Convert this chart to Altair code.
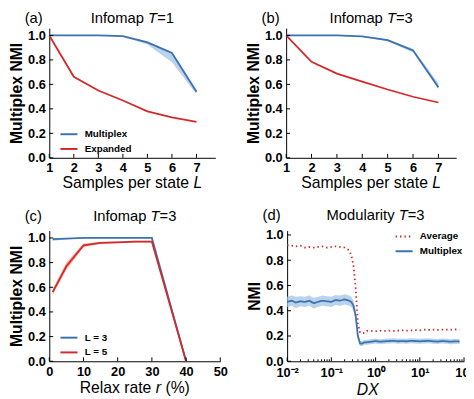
import altair as alt
import pandas as pd

FONT = "Liberation Sans"
BLUE = "#3B73AF"
BLUE_BAND = "#A9C7E7"
RED = "#D22A2A"
RED_BAND = "#F4A48E"

# ---------------- data ----------------
L_samples = [1, 2, 3, 4, 5, 6, 7]
# (a) Infomap T=1
a_multi = [1.0, 1.0, 1.0, 0.995, 0.943, 0.857, 0.540]
a_multi_lo = [1.0, 1.0, 0.998, 0.990, 0.925, 0.780, 0.520]
a_multi_hi = [1.0, 1.0, 1.0, 0.998, 0.952, 0.865, 0.555]
a_expanded = [1.0, 0.662, 0.550, 0.468, 0.380, 0.330, 0.293]
# (b) Infomap T=3
b_multi = [1.0, 1.0, 1.0, 0.992, 0.961, 0.878, 0.577]
b_multi_lo = [1.0, 1.0, 0.998, 0.988, 0.952, 0.860, 0.560]
b_multi_hi = [1.0, 1.0, 1.0, 0.996, 0.968, 0.892, 0.610]
b_expanded = [1.0, 0.784, 0.688, 0.623, 0.558, 0.499, 0.452]
# (c) relax rate
relax = [1, 5, 10, 15, 20, 25, 30, 40]
c_L3 = [0.990, 0.995, 1.0, 1.0, 1.0, 1.0, 1.0, 0.0]
c_L3_lo = [0.975, 0.990, 0.995, 0.997, 0.997, 0.997, 0.997, 0.0]
c_L3_hi = [1.0, 1.0, 1.0, 1.0, 1.0, 1.0, 1.0, 0.0]
c_L5 = [0.560, 0.770, 0.940, 0.960, 0.965, 0.970, 0.970, 0.0]
c_L5_lo = [0.540, 0.740, 0.925, 0.952, 0.958, 0.963, 0.963, 0.0]
c_L5_hi = [0.585, 0.800, 0.955, 0.968, 0.972, 0.977, 0.977, 0.0]
# (d) Modularity T=3
dx = [0.01, 0.0126, 0.0158, 0.02, 0.0251, 0.0316, 0.0398, 0.05, 0.063, 0.079,
      0.1, 0.126, 0.158, 0.2, 0.251, 0.282, 0.316, 0.355, 0.398, 0.447,
      0.5, 0.56, 0.63, 0.79, 1.0, 1.26, 1.58, 2.0, 2.51, 3.16,
      3.98, 5.0, 6.3, 7.9, 10, 12.6, 15.8, 20, 25.1, 31.6,
      39.8, 50, 63, 79]
d_average = [0.920, 0.915, 0.910, 0.915, 0.900, 0.905, 0.900, 0.905, 0.910, 0.900,
             0.905, 0.910, 0.905, 0.900, 0.880, 0.840, 0.760, 0.580, 0.300, 0.225,
             0.222, 0.225, 0.240, 0.240, 0.238, 0.242, 0.240, 0.242, 0.240, 0.243,
             0.245, 0.242, 0.245, 0.246, 0.245, 0.250, 0.248, 0.250, 0.248, 0.250,
             0.250, 0.250, 0.252, 0.250]
d_multi = [0.470, 0.480, 0.465, 0.475, 0.470, 0.480, 0.460, 0.470, 0.480, 0.475,
           0.470, 0.485, 0.480, 0.490, 0.480, 0.470, 0.440, 0.360, 0.200, 0.140,
           0.140, 0.150, 0.150, 0.155, 0.160, 0.155, 0.158, 0.160, 0.162, 0.158,
           0.160, 0.158, 0.162, 0.160, 0.158, 0.160, 0.162, 0.158, 0.156, 0.160,
           0.158, 0.155, 0.158, 0.156]
d_band = [0.040, 0.040, 0.045, 0.040, 0.040, 0.040, 0.042, 0.040, 0.040, 0.040,
          0.040, 0.040, 0.040, 0.040, 0.040, 0.040, 0.040, 0.040, 0.030, 0.020,
          0.020, 0.020, 0.020, 0.020, 0.020, 0.020, 0.020, 0.020, 0.020, 0.020,
          0.020, 0.020, 0.020, 0.020, 0.020, 0.020, 0.020, 0.020, 0.020, 0.020,
          0.020, 0.020, 0.020, 0.020]

y_ticks = [0.0, 0.2, 0.4, 0.6, 0.8, 1.0]
a_xticks = [1, 2, 3, 4, 5, 6, 7]
c_xticks = [0, 10, 20, 30, 40, 50]
d_xticks = [0.01, 0.1, 1, 10, 100]
d_minor = [m * d for d in [0.01, 0.1, 1, 10] for m in range(2, 10)]
sup = ("datum.value == 0.01 ? '10⁻²' : datum.value == 0.1 ? '10⁻¹' : "
       "datum.value == 1 ? '10⁰' : datum.value == 10 ? '10¹' : '10²'")


def xaxis(values, label_expr=None, pad=4):
    kw = dict(values=values, title=None, labelPadding=pad)
    if label_expr:
        kw["labelExpr"] = label_expr
    return alt.Axis(**kw)


def yaxis(title):
    return alt.Axis(values=y_ticks, title=title, format=".1f")


def txt(t, x, y, size=15, italic=False, align="left"):
    kw = dict(font=FONT, fontSize=size, align=align, baseline="alphabetic",
              color="black")
    if italic:
        kw["fontStyle"] = "italic"
    return alt.Chart(pd.DataFrame({"t": [t]})).mark_text(**kw).encode(
        text="t:N", x=alt.value(x), y=alt.value(y))


def compose(parts, w, yb, size):
    # parts: (text, italic, advance width in px incl. following space)
    total = sum(p[2] for p in parts)
    x = w / 2 - total / 2
    out = []
    for t, it, adv in parts:
        out.append(txt(t, x, yb, size=size, italic=it))
        x += adv
    return out


def title_marks(label, main, main_adv, tval, w, yb):
    return [txt(label, -25, yb)] + compose(
        [(main, False, main_adv), ("T", True, 9.2), ("=" + tval, False, 17.1)], w, yb, 15)


def tick_layers(X, Y, xs, h, minor=None):
    tx = pd.DataFrame({"x": xs})
    ty = pd.DataFrame({"y": y_ticks})
    layers = [
        alt.Chart(tx).mark_rule(color="black", strokeWidth=1).encode(
            x=X("x"), y=alt.value(h), y2=alt.value(h - 4)),
        alt.Chart(ty).mark_rule(color="black", strokeWidth=1).encode(
            y=Y("y"), x=alt.value(0), x2=alt.value(4)),
    ]
    if minor:
        tm = pd.DataFrame({"x": minor})
        layers.append(alt.Chart(tm).mark_rule(color="black", strokeWidth=1).encode(
            x=X("x"), y=alt.value(h), y2=alt.value(h - 2)))
    return layers


def legend(x, y):
    return alt.Legend(orient="none", legendX=x, legendY=y, title=None,
                      symbolType="stroke", symbolSize=300, symbolStrokeWidth=2,
                      labelFont=FONT, labelFontSize=10, labelFontWeight="bold",
                      labelColor="black", rowPadding=-5, padding=0, labelOffset=6)


def samples_panel(multi, lo, hi, expanded, tval, lab, w, h, xmax, show_legend):
    xsc = alt.Scale(domain=[1, xmax], nice=False, zero=False)
    ysc = alt.Scale(domain=[0, 1.06], nice=False)
    xa = xaxis(a_xticks)
    ya = yaxis("Multiplex NMI")
    X = lambda f: alt.X(f"{f}:Q", scale=xsc, axis=xa)
    Y = lambda f: alt.Y(f"{f}:Q", scale=ysc, axis=ya)
    band = pd.DataFrame({"L": L_samples, "lo": lo, "hi": hi})
    lines = pd.DataFrame({
        "L": L_samples * 2,
        "nmi": multi + expanded,
        "series": ["Multiplex"] * 7 + ["Expanded"] * 7,
    })
    area = alt.Chart(band).mark_area(color=BLUE_BAND, opacity=0.8).encode(
        x=X("L"), y=Y("lo"), y2="hi:Q")
    leg = legend(10, 98) if show_legend else None
    color = alt.Color("series:N", scale=alt.Scale(domain=["Multiplex", "Expanded"],
                                                  range=[BLUE, RED]), legend=leg)
    line = alt.Chart(lines).mark_line(strokeWidth=1.8).encode(
        x=X("L"), y=Y("nmi"), color=color)
    texts = title_marks(lab, "Infomap", 58.4, tval, w, -5) + compose(
        [("Samples per state", False, 133.4), ("L", True, 8.9)], w, h + 31, 16)
    return alt.layer(area, line, *tick_layers(X, Y, a_xticks, h), *texts).properties(
        width=w, height=h)


pa = samples_panel(a_multi, a_multi_lo, a_multi_hi, a_expanded, "1", "(a)",
                   169, 132, 7.77, True)
pb = samples_panel(b_multi, b_multi_lo, b_multi_hi, b_expanded, "3", "(b)",
                   173, 132, 7.7, False)

# (c)
wc, hc = 174, 133
xsc_c = alt.Scale(domain=[0, 50], nice=False)
ysc_c = alt.Scale(domain=[0, 1.06], nice=False)
xa_c = xaxis(c_xticks)
ya_c = yaxis("Multiplex NMI")
Xc = lambda f: alt.X(f"{f}:Q", scale=xsc_c, axis=xa_c)
Yc = lambda f: alt.Y(f"{f}:Q", scale=ysc_c, axis=ya_c)
c_band = pd.DataFrame({"r": relax * 2, "lo": c_L3_lo + c_L5_lo, "hi": c_L3_hi + c_L5_hi,
                       "series": ["L = 3"] * 8 + ["L = 5"] * 8})
c_lines = pd.DataFrame({"r": relax * 2, "nmi": c_L3 + c_L5,
                        "series": ["L = 3"] * 8 + ["L = 5"] * 8})
c_area3 = alt.Chart(c_band).transform_filter(alt.datum.series == "L = 3").mark_area(
    color=BLUE_BAND, opacity=0.8).encode(x=Xc("r"), y=Yc("lo"), y2="hi:Q")
c_area5 = alt.Chart(c_band).transform_filter(alt.datum.series == "L = 5").mark_area(
    color=RED_BAND, opacity=0.8).encode(x=Xc("r"), y=Yc("lo"), y2="hi:Q")
c_line = alt.Chart(c_lines).mark_line(strokeWidth=1.8).encode(
    x=Xc("r"), y=Yc("nmi"),
    color=alt.Color("series:N", scale=alt.Scale(domain=["L = 3", "L = 5"], range=[BLUE, RED]),
                    legend=legend(10, 99)))
c_texts = title_marks("(c)", "Infomap", 58.4, "3", wc, -10) + compose(
    [("Relax rate", False, 77.4), ("r", True, 9.8), ("(%)", False, 24.9)], wc, hc + 32, 16)
pc = alt.layer(c_area3, c_area5, c_line, *tick_layers(Xc, Yc, c_xticks, hc),
               *c_texts).properties(width=wc, height=hc)

# (d)
wd, hd = 180, 133
xsc_d = alt.Scale(type="log", domain=[0.01, 100], nice=False)
ysc_d = alt.Scale(domain=[0, 1.035], nice=False)
xa_d = xaxis(d_xticks, sup, pad=6)
ya_d = yaxis("NMI")
Xd = lambda f: alt.X(f"{f}:Q", scale=xsc_d, axis=xa_d)
Yd = lambda f: alt.Y(f"{f}:Q", scale=ysc_d, axis=ya_d)
d_lo = [m - b for m, b in zip(d_multi, d_band)]
d_hi = [m + b for m, b in zip(d_multi, d_band)]
d_bdf = pd.DataFrame({"dx": dx, "lo": d_lo, "hi": d_hi})
d_ldf = pd.DataFrame({"dx": dx * 2, "nmi": d_average + d_multi,
                      "series": ["Average"] * len(dx) + ["Multiplex"] * len(dx)})
d_area = alt.Chart(d_bdf).mark_area(color=BLUE_BAND, opacity=0.8).encode(
    x=Xd("dx"), y=Yd("lo"), y2="hi:Q")
d_line = alt.Chart(d_ldf).mark_line(strokeWidth=1.8).encode(
    x=Xd("dx"), y=Yd("nmi"),
    color=alt.Color("series:N", scale=alt.Scale(domain=["Average", "Multiplex"],
                                                range=[RED, BLUE]), legend=legend(109, -4)),
    strokeDash=alt.StrokeDash("series:N", scale=alt.Scale(domain=["Average", "Multiplex"],
                                                          range=[[1.5, 3], [1, 0]]),
                              legend=legend(109, -4)))
d_texts = title_marks("(d)", "Modularity", 73.4, "3", wd, -11) + [
    txt("DX", wd / 2 - 8, hd + 34, size=16, italic=True, align="center")]
pd_ = alt.layer(d_area, d_line, *tick_layers(Xd, Yd, d_xticks, hd, d_minor),
                *d_texts).properties(width=wd, height=hd)

top = alt.hconcat(pa, pb, spacing=30).resolve_scale(color="independent")
bottom = alt.hconcat(pc, pd_, spacing=18).resolve_scale(color="independent",
                                                        strokeDash="independent")
chart = alt.vconcat(top, bottom, spacing=17).resolve_scale(
    color="independent", strokeDash="independent"
).configure_view(stroke=None).configure_axis(
    labelFont=FONT, labelFontSize=13, labelFontWeight="bold", labelColor="black",
    titleFont=FONT, titleColor="black", titleFontSize=16, titleFontWeight="bold",
    grid=False, ticks=False, tickSize=0, domainColor="black", domainWidth=1,
    labelFlush=False, labelOverlap=False, labelPadding=4, titlePadding=3
).properties(
    padding={"left": 0, "top": 0, "right": -8, "bottom": 0}, background="white")

chart.save("out.html", embed_options={"renderer": "svg", "actions": False})
